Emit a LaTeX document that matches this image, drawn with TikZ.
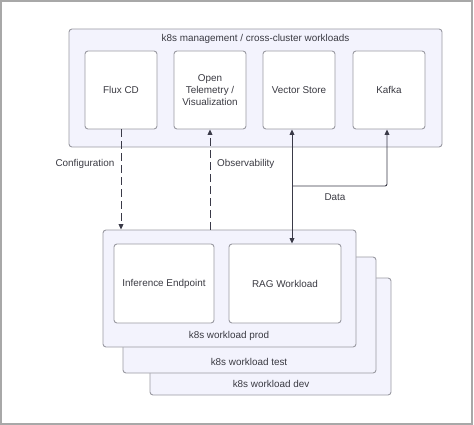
\documentclass[tikz,border=0pt]{standalone}
\usepackage{fontspec}
\setmainfont{Liberation Sans}
\usetikzlibrary{arrows.meta}
\definecolor{frame}{HTML}{A8A8A8}
\definecolor{cont}{HTML}{F3F3FD}
\definecolor{edge}{HTML}{9A9AA2}
\definecolor{txt}{HTML}{3A3A42}
\definecolor{line}{HTML}{3A3A48}
\tikzset{
  container/.style={draw=edge, fill=cont, rounded corners=3pt, line width=0.9pt, inner sep=0pt},
  inbox/.style={draw=edge, fill=white, rounded corners=3pt, line width=0.9pt, inner sep=0pt, text=txt, font=\fontsize{9.9}{12}\selectfont, align=center},
  lbl/.style={text=txt, font=\fontsize{9.9}{12}\selectfont, inner sep=0pt},
  tip/.tip={Triangle[length=5.5pt,width=4.8pt]},
  conn/.style={draw=line, line width=0.9pt, -tip},
  dconn/.style={conn, dash pattern=on 8pt off 4pt},
}
\begin{document}
\begin{tikzpicture}[x=1pt,y=-1pt]
\useasboundingbox (0,0) rectangle (474,425);
\draw[frame, line width=2pt] (1,1) rectangle (472,424);
% top container
\node[container, minimum width=373pt, minimum height=118pt] (mgmt) at (255.5,88) {};
\node[lbl] (mgmtt) at (255.5,39) {k8s management / cross-cluster workloads};
\node[inbox, minimum width=72pt, minimum height=78pt] (flux) at (121,90) {Flux CD};
\node[inbox, minimum width=72pt, minimum height=78pt] (otel) at (210,90) {Open\\Telemetry /\\Visualization};
\node[inbox, minimum width=72pt, minimum height=78pt] (vs) at (299,90) {Vector Store};
\node[inbox, minimum width=72pt, minimum height=78pt] (kafka) at (389,90) {Kafka};
% workload stacks
\node[container, minimum width=241pt, minimum height=117pt] (dev) at (270.5,336.5) {};
\node[lbl] (devt) at (271,384) {k8s workload dev};
\node[container, minimum width=253pt, minimum height=116pt] (test) at (249.5,315) {};
\node[lbl] (testt) at (249,362) {k8s workload test};
\node[container, minimum width=253pt, minimum height=117pt] (prod) at (229.5,288.5) {};
\node[lbl] (prodt) at (229,336) {k8s workload prod};
\node[inbox, minimum width=100pt, minimum height=79pt] (inf) at (164,283.5) {Inference Endpoint};
\node[inbox, minimum width=112pt, minimum height=79pt] (rag) at (285,283.5) {RAG Workload};
% connectors
\draw[dconn] (flux.south) -- (flux.south |- prod.north);
\draw[dconn] (otel.south |- prod.north) -- (otel.south);
\draw[conn, tip-tip] ([xshift=-7pt]vs.south) -- ([xshift=-7pt]vs.south |- rag.north);
\coordinate (j) at ([xshift=-7pt]vs.south |- 0,186);
\draw[conn, rounded corners=2pt] (j) -- ([xshift=-2pt]kafka.south |- j) -- ([xshift=-2pt]kafka.south);
\node[lbl] (cfg) at (85,164) {Configuration};
\node[lbl, anchor=west] (obs) at (217,164) {Observability};
\node[lbl] (data) at (335,197) {Data};
\end{tikzpicture}
\end{document}
